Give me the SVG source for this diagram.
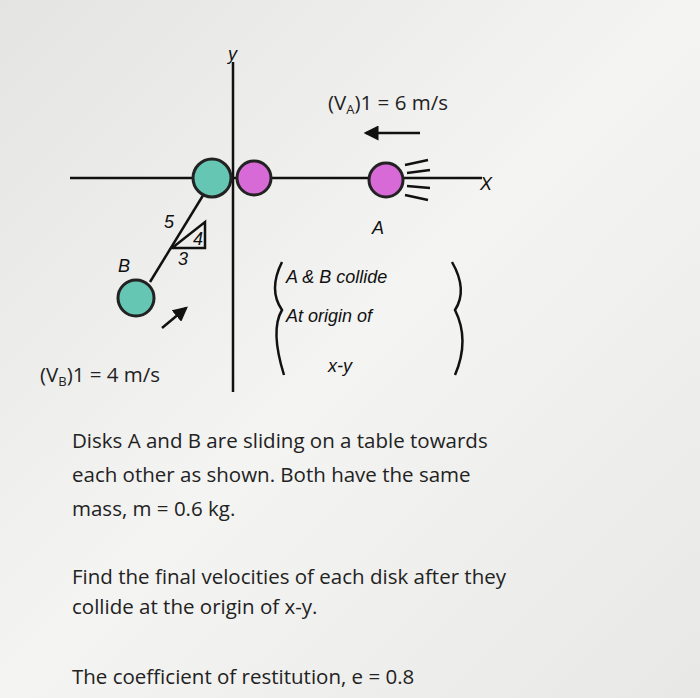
<svg xmlns="http://www.w3.org/2000/svg" width="700" height="698" viewBox="0 0 700 698">
<defs>
<linearGradient id="bg" x1="0" y1="0" x2="1" y2="1"><stop offset="0" stop-color="#e4e4e2"/><stop offset="0.5" stop-color="#f4f4f2"/><stop offset="1" stop-color="#e8e8e6"/></linearGradient>
<marker id="ah" markerWidth="6" markerHeight="6" refX="5" refY="3" orient="auto"><path d="M0,0 L6,3 L0,6 z" fill="#111"/></marker>
</defs>
<style>
.t{font-family:"Open Sans","Liberation Sans",sans-serif;font-size:20.5px;fill:#222}
.h{font-family:"Liberation Sans",sans-serif;font-size:18px;fill:#111;font-style:italic}
.ln{stroke:#111;stroke-width:2.5;fill:none}
.teal{fill:#66c6b4;stroke:#222;stroke-width:3}
.pink{fill:#d86ad8;stroke:#222;stroke-width:3}
</style>
<rect width="700" height="698" fill="url(#bg)"/>
<g id="connectors">
<line class="ln" x1="233" y1="62" x2="233" y2="392"/>
<line class="ln" x1="70" y1="178" x2="482" y2="178"/>
<line class="ln" x1="150" y1="282" x2="210" y2="184"/>
<line class="ln" x1="420" y1="133" x2="366" y2="133" marker-end="url(#ah)" stroke-width="3"/>
<line class="ln" x1="162" y1="328" x2="186" y2="308" marker-end="url(#ah)" stroke-width="3"/>
<path class="ln" d="M405,165 L428,160 M407,173 L430,170 M407,186 L430,188 M405,195 L428,200" stroke-width="1.5"/>
<path class="ln" d="M172,248 L205,248 L205,222 z" stroke-width="1.5"/>
</g>
<g id="labels">
<text class="h" x="228" y="60">y</text>
<text class="h" x="480" y="190" font-size="22">X</text>
<text class="t" x="328" y="110" font-size="19">(V<tspan font-size="13" dy="4">A</tspan><tspan dy="-4">)1 = 6 m/s</tspan></text>
<text class="t" x="40" y="382" font-size="19">(V<tspan font-size="13" dy="4">B</tspan><tspan dy="-4">)1 = 4 m/s</tspan></text>
<text class="h" x="164" y="228" font-size="14">5</text>
<text class="h" x="193" y="245" font-size="14">4</text>
<text class="h" x="178" y="265" font-size="14">3</text>
</g>
<g id="diskO1"><circle class="teal" cx="212" cy="178" r="19"/></g>
<g id="diskO2"><circle class="pink" cx="254" cy="178" r="17"/></g>
<g id="diskA"><circle class="pink" cx="386" cy="180" r="17"/><text class="h" x="372" y="234" font-size="22">A</text></g>
<g id="diskB"><circle class="teal" cx="136" cy="298" r="18"/><text class="h" x="118" y="272" font-size="20">B</text></g>
<g id="note">
<path class="ln" stroke-width="2" d="M282,262 Q268,290 282,310 Q270,330 284,375"/>
<path class="ln" stroke-width="2" d="M452,262 Q468,290 455,310 Q470,340 455,375"/>
<text class="h" x="286" y="283" font-size="22">A &amp; B collide</text>
<text class="h" x="286" y="322" font-size="22">At origin of</text>
<text class="h" x="328" y="372" font-size="24">x-y</text>
</g>
<g id="text">
<text class="t" x="72" y="448">Disks A and B are sliding on a table towards</text>
<text class="t" x="72" y="482">each other as shown. Both have the same</text>
<text class="t" x="72" y="516">mass, m = 0.6 kg.</text>
<text class="t" x="72" y="584">Find the final velocities of each disk after they</text>
<text class="t" x="72" y="614">collide at the origin of x-y.</text>
<text class="t" x="72" y="684">The coefficient of restitution, e = 0.8</text>
</g>
</svg>
